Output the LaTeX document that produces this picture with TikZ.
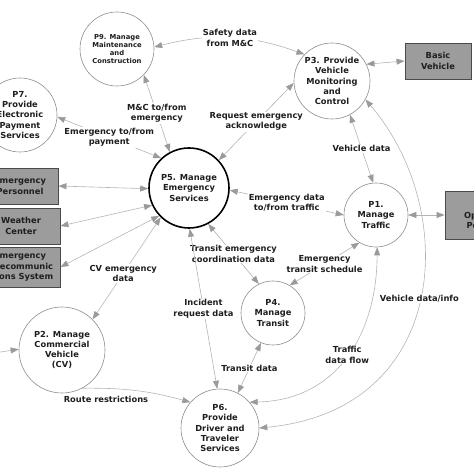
\documentclass[tikz,border=0pt]{standalone}
\usepackage{fontspec}
\setmainfont{DejaVu Sans}
\usetikzlibrary{positioning,arrows.meta}
\definecolor{linegray}{HTML}{B4B4B4}
\definecolor{tipgray}{HTML}{9A9A9A}
\definecolor{ringgray}{HTML}{8E8E8E}
\definecolor{boxgray}{HTML}{9C9C9C}
\definecolor{boxedge}{HTML}{4A4A4A}
\definecolor{textdark}{HTML}{1E1E1E}

\begin{document}
\begin{tikzpicture}[x=1pt, y=1pt,
    proc/.style={draw=ringgray, line width=0.6pt, circle, fill=white, align=center, inner sep=0pt, text=textdark, font=\fontsize{8.3}{10.3}\selectfont\bfseries},
    mainproc/.style={proc, draw=black, line width=1.6pt},
    term/.style={draw=boxedge, line width=0.9pt, fill=boxgray, align=center, inner sep=0pt, text=textdark, font=\fontsize{8.3}{10.3}\selectfont\bfseries},
    flowlbl/.style={fill=white, inner sep=1pt, align=center, text=textdark, font=\fontsize{8.3}{10.3}\selectfont\bfseries},
    flow/.style={draw=linegray, line width=0.6pt, >={Triangle[length=8pt,width=6pt,color=tipgray]}, <->},
    oneway/.style={draw=linegray, line width=0.6pt, >={Triangle[length=8pt,width=6pt,color=tipgray]}, ->}
  ]
    \useasboundingbox (0,0) rectangle (474,474);
    \clip (0,0) rectangle (474,474);

    % Processes.
    \node[proc, minimum size=74pt, font=\fontsize{6.8}{8.2}\selectfont\bfseries] at (117,425) (p9) {P9. Manage\\Maintenance\\and\\Construction};
    \node[proc, minimum size=74pt] at (20,359) (p7) {P7.\\Provide\\Electronic\\Payment\\Services};
    \node[proc, minimum size=76pt] at (332,393) (p3) {P3. Provide\\Vehicle\\Monitoring\\and\\Control};
    \node[mainproc, minimum size=80pt] at (189,286) (p5) {P5. Manage\\Emergency\\Services};
    \node[proc, minimum size=64pt] at (376,259) (p1) {P1.\\Manage\\Traffic};
    \node[proc, minimum size=64pt] at (273,161) (p4) {P4.\\Manage\\Transit};
    \node[proc, minimum size=86pt] at (62,124) (p2) {P2. Manage\\Commercial\\Vehicle\\(CV)};
    \node[proc, minimum size=78pt] at (220,46) (p6) {P6.\\Provide\\Driver and\\Traveler\\Services};

    % Terminators.
    \node[term, minimum width=66pt, minimum height=36pt] at (438,413) (basicveh) {Basic\\Vehicle};
    \node[term, minimum width=90pt, minimum height=48pt] at (490,259) (trafficops) {Traffic\\Operations\\Personnel};
    \node[term, minimum width=76pt, minimum height=36pt] at (20,288) (emgpers) {Emergency\\Personnel};
    \node[term, minimum width=78pt, minimum height=36pt] at (21,248) (weather) {Weather\\Center};
    \node[term, minimum width=80pt, minimum height=40pt] at (20,207) (telecom) {Emergency\\Telecommunic\\ations System};

    % Flows round P3 and P9.
    \draw[flow] (p9.3) to[bend left=17] node[flowlbl] {Safety data\\from M\&C} (p3.136);
    \draw[flow] (p9.-44) -- node[flowlbl] {M\&C to/from\\emergency} (p5.118);
    \draw[flow] (p7.-3) -- node[flowlbl] {Emergency to/from\\payment} (p5.133);
    \draw[flow] (p3.183) -- node[flowlbl] {Request emergency\\acknowledge} (p5.43);
    \draw[flow] (p3.-62) -- node[flowlbl] {Vehicle data} (p1.95);
    \draw[flow] (p3.26) -- (basicveh.west);

    % Flows out of P5.
    \draw[flow] (p5.-3) -- node[flowlbl] {Emergency data\\to/from traffic} (p1.180);
    \draw[flow] (p1.east) -- (trafficops.west);
    \draw[flow] (p5.-62) -- node[flowlbl] {Transit emergency\\coordination data} (p4.116);
    \draw[flow] (p4.59) -- node[flowlbl] {Emergency\\transit schedule} (p1.239);
    \draw[flow] (p5.-89) -- node[flowlbl] {Incident\\request data} (p6.94);
    \draw[flow] (p4.-112) -- node[flowlbl] {Transit data} (p6.63);
    \draw[flow] (p5.226) -- node[flowlbl, pos=0.55] {CV emergency\\data} (p2.45);
    \draw[flow] (p5.181) -- (emgpers.east);
    \draw[flow] (p5.205) -- (weather.east);
    \draw[flow] (p5.223) -- (telecom.east);

    % Long arcs to P6.
    \draw[flow] (p1.-88) .. controls (377,144) and (340,74) .. (p6.41) node[flowlbl, pos=0.5] {Traffic\\data flow};
    \draw[flow] (p3.-29) .. controls (460,264) and (450,64) .. (p6.0) node[flowlbl, pos=0.5] {Vehicle data/info};

    % Commercial vehicle.
    \draw[oneway] (p2.-62) to[bend left=8] node[flowlbl, below=6pt, pos=0.2] {Route restrictions} (p6.139);
    \coordinate (offleft) at (-6,121);
    \draw[oneway] (offleft) -- (p2.179);
  \end{tikzpicture}
\end{document}
